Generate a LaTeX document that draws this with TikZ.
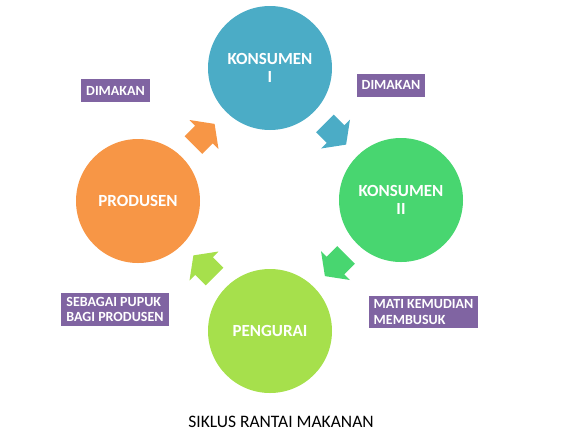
\documentclass[tikz,border=0pt]{standalone}
\usepackage{fontspec}
\setmainfont{Carlito}
\usetikzlibrary{calc}

\definecolor{biru}{RGB}{75,172,198}
\definecolor{hijau}{RGB}{72,214,112}
\definecolor{lime}{RGB}{166,224,76}
\definecolor{oranye}{RGB}{247,150,70}
\definecolor{ungu}{RGB}{128,100,162}

\tikzset{
  tahap/.style={circle, minimum size=124pt, inner sep=0pt, text=white, align=center,
    font=\bfseries\fontsize{17}{18}\selectfont},
  keterangan/.style={fill=ungu, text=white, align=left, inner xsep=5pt, inner ysep=4pt,
    font=\bfseries\fontsize{14}{15.5}\selectfont},
  panah/.pic={\fill (-15,-12.5) -- (0,-12.5) -- (0,-20.5) -- (15,0) -- (0,20.5) -- (0,12.5) -- (-15,12.5) -- cycle;}
}

\begin{document}
\begin{tikzpicture}[x=1pt, y=-1pt]
            \useasboundingbox (0,0) rectangle (562,440);
            % lingkaran siklus
            \node[tahap, fill=biru] (konsumen1) at (270,68) {KONSUMEN\\I};
            \node[tahap, fill=hijau] (konsumen2) at (401,200) {KONSUMEN\\II};
            \node[tahap, fill=lime] (pengurai) at (270,331) {PENGURAI};
            \node[tahap, fill=oranye] (produsen) at (138,201) {PRODUSEN};
            % panah
            \pic[fill=oranye, rotate=45] at ($(produsen)!0.5!(konsumen1)$) {panah};
            \pic[fill=biru, rotate=-45] at ($(konsumen1)!0.5!(konsumen2)$) {panah};
            \pic[fill=hijau, rotate=-135] at ($(konsumen2)!0.5!(pengurai)$) {panah};
            \pic[fill=lime, rotate=135] at ($(pengurai)!0.5!(produsen)$) {panah};
            % keterangan
            \node[keterangan, minimum height=23pt] (dimakan1) at (115.5,90.5) {DIMAKAN};
            \node[keterangan, minimum height=23pt] (dimakan2) at (391,85) {DIMAKAN};
            \node[keterangan] (pupuk) at (115,309.5) {SEBAGAI PUPUK\\BAGI PRODUSEN};
            \node[keterangan] (busuk) at (423.5,312) {MATI KEMUDIAN\\MEMBUSUK};
            \node[font=\fontsize{17.5}{19}\selectfont] (judul) at (281,422) {SIKLUS RANTAI MAKANAN};
        \end{tikzpicture}
\end{document}
